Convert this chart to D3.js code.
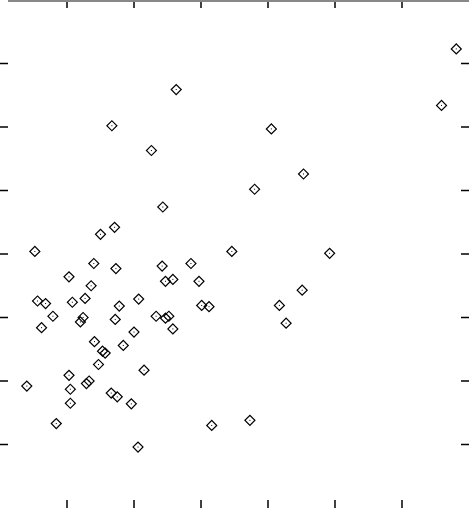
<!DOCTYPE html>
<html>
<head>
<meta charset="utf-8">
<script src="https://cdn.jsdelivr.net/npm/d3@7"></script>
<style>
html,body{margin:0;padding:0;background:#fff;overflow:hidden;}
svg{display:block;}
</style>
</head>
<body>
<svg id="chart" width="469" height="508"></svg>
<script>
const xValues = [6.81,2.63,6.59,1.67,4.05,2.26,4.53,3.80,2.43,1.71,
 1.50,0.52,3.46,4.92,1.40,1.73,2.42,2.85,1.03,1.36,
 2.47,2.58,2.97,4.51,0.56,0.68,1.08,1.27,2.07,0.79,
 1.78,3.01,3.12,4.17,1.24,1.20,1.72,2.33,2.47,2.52,
 0.62,2.58,4.27,2.00,1.41,1.53,1.57,1.84,1.47,2.15,
 1.03,0.40,1.05,1.29,1.33,1.66,1.75,1.96,1.05,0.84,
 3.16,3.73,2.06];
const yValues = [7.23,6.59,6.34,6.02,5.97,5.63,5.26,5.02,4.74,4.42,
 4.31,4.04,4.04,4.01,3.85,3.77,3.81,3.85,3.64,3.50,
 3.57,3.60,3.57,3.43,3.26,3.22,3.24,3.30,3.29,3.02,
 3.18,3.19,3.17,3.19,3.00,2.93,2.97,3.02,2.99,3.02,
 2.84,2.82,2.91,2.77,2.62,2.47,2.44,2.56,2.26,2.17,
 2.09,1.92,1.87,1.96,2.00,1.81,1.75,1.64,1.65,1.33,
 1.30,1.38,0.96];
const xTicks = [1,2,3,4,5,6];
const yTicks = [1,2,3,4,5,6,7];

const W = 469, H = 508;
const svg = d3.select("#chart");
const x = d3.scaleLinear().domain([0,7]).range([0,W]);
const y = d3.scaleLinear().domain([0,8]).range([H,0]);
const tickLen = 8;

const axes = svg.append("g").attr("stroke","#000").attr("stroke-width",1.5);
axes.selectAll(".xt").data(xTicks).enter().append("line")
  .attr("x1",d=>x(d)).attr("x2",d=>x(d)).attr("y1",0).attr("y2",tickLen);
axes.selectAll(".xb").data(xTicks).enter().append("line")
  .attr("x1",d=>x(d)).attr("x2",d=>x(d)).attr("y1",H).attr("y2",H-tickLen);
axes.selectAll(".yl").data(yTicks).enter().append("line")
  .attr("y1",d=>y(d)).attr("y2",d=>y(d)).attr("x1",0).attr("x2",tickLen);
axes.selectAll(".yr").data(yTicks).enter().append("line")
  .attr("y1",d=>y(d)).attr("y2",d=>y(d)).attr("x1",W).attr("x2",W-tickLen);

svg.append("line").attr("x1",8).attr("x2",W).attr("y1",1).attr("y2",1)
  .attr("stroke","#888").attr("stroke-width",2);

const pts = xValues.map((v,i)=>({x:v,y:yValues[i]}));
const sym = d3.symbol().type(d3.symbolSquare).size(50);
const g = svg.append("g");
const m = g.selectAll("g.pt").data(pts).enter().append("g")
  .attr("transform",d=>`translate(${x(d.x)},${y(d.y)})`);
m.append("path").attr("d",sym).attr("transform","rotate(45)")
  .attr("fill","none").attr("stroke","#000").attr("stroke-width",1.2);
m.append("rect").attr("x",-0.5).attr("y",-0.5).attr("width",1).attr("height",1).attr("fill","#000");
</script>
</body>
</html>
